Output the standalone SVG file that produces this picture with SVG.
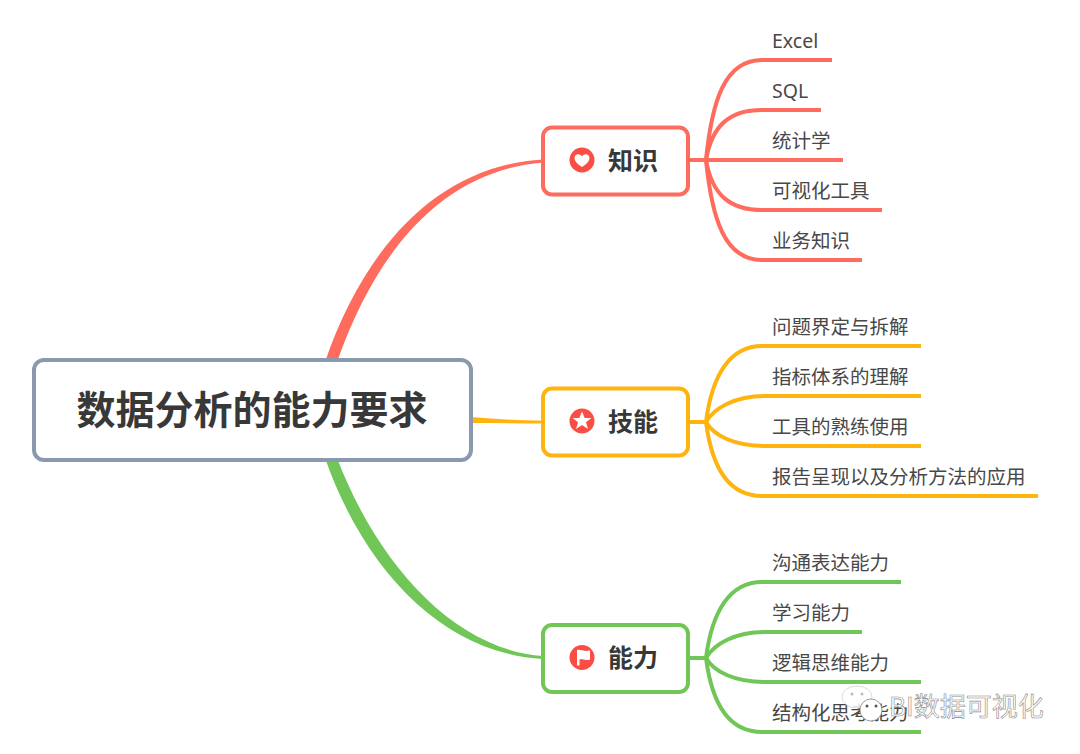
<svg xmlns="http://www.w3.org/2000/svg" width="1080" height="754" viewBox="0 0 1080 754">
<style>
.c{fill:none;stroke-width:4;stroke-linecap:butt}
.r{stroke:#ff6b5d}.y{stroke:#ffb30f}.g{stroke:#70c656}
.box{fill:#fff;stroke-width:4}
.t{font-family:"Noto Sans","Noto Sans CJK SC",sans-serif;font-size:19.500px;fill:#484848}
.b{font-family:"Noto Sans CJK SC",sans-serif;font-size:25px;font-weight:700;fill:#383838}
.ic{fill:#fa4d43}
.w{fill:#fff}
</style>
<rect width="1080" height="754" fill="#fff"/>
<g id="connectors">
<path d="M325 362C365 245 440 165 543 159.500L543 162.500C450 170 380 240 337 362Z" fill="#ff6b5d"/>
<path d="M471 417C495 419 520 420.500 543 420.500L543 423.500C520 423.500 495 423 471 423Z" fill="#ffb30f"/>
<path d="M325 458C365 572 445 654 543 659L543 656C455 650 378 565 337 458Z" fill="#70c656"/>
<g class="c r">
<path d="M688 160H706"/>
<path d="M706 160C712 100 725 60 762 60H832"/>
<path d="M706 160C712 125 730 110 762 110H821"/>
<path d="M706 160H843"/>
<path d="M706 160C712 195 730 210 762 210H882"/>
<path d="M706 160C712 220 725 260 762 260H862"/>
</g>
<g class="c y">
<path d="M688 422H706"/>
<path d="M706 422C712 375 730 346 762 346H921"/>
<path d="M706 422C714 408 735 396 765 396H921"/>
<path d="M706 422C714 436 735 446 765 446H921"/>
<path d="M706 422C712 469 730 496 762 496H1038"/>
</g>
<g class="c g">
<path d="M688 658H706"/>
<path d="M706 658C712 611 730 582 762 582H901"/>
<path d="M706 658C714 644 735 632 765 632H862"/>
<path d="M706 658C714 672 735 682 765 682H921"/>
<path d="M706 658C712 705 730 732 762 732H921"/>
</g>
</g>
<g id="root">
<rect x="34" y="360" width="437" height="100" rx="10" class="box" stroke="#8a99ae"/>
<text x="252" y="424" text-anchor="middle" font-family="'Noto Sans CJK SC',sans-serif" font-size="39" font-weight="700" fill="#383838">数据分析的能力要求</text>
</g>
<g id="node-zhishi">
<rect x="543" y="127.500" width="145" height="67" rx="9" class="box" stroke="#ff6b5d"/>
<circle cx="582" cy="160" r="12.500" class="ic"/>
<path d="M582 167C577 164 574.500 161 574.500 158C574.500 153.500 580 153 582 156.500C584 153 589.500 153.500 589.500 158C589.500 161 587 164 582 167Z" class="w"/>
<text x="608" y="169.500" class="b">知识</text>
</g>
<g id="node-jineng">
<rect x="543" y="388.500" width="145" height="67" rx="9" class="box" stroke="#ffb30f"/>
<circle cx="582" cy="421" r="12.500" class="ic"/>
<path d="M582 411.500L584.700 418H591.500L586 422.200L588 429L582 425L576 429L578 422.200L572.500 418H579.300Z" class="w"/>
<text x="608" y="430.500" class="b">技能</text>
</g>
<g id="node-nengli">
<rect x="543" y="625" width="145" height="67" rx="9" class="box" stroke="#70c656"/>
<circle cx="582" cy="657.500" r="12.500" class="ic"/>
<path d="M577 650C581 649 584 652 590 650.500V659.500C585 661 582 658.500 579.500 659.500V665.500H577Z" class="w"/>
<text x="608" y="666.500" class="b">能力</text>
</g>
<g id="leaves" class="t">
<text x="772" y="47.500">Excel</text>
<text x="772" y="97.500">SQL</text>
<text x="772" y="148">统计学</text>
<text x="772" y="198">可视化工具</text>
<text x="772" y="248">业务知识</text>
<text x="772" y="334">问题界定与拆解</text>
<text x="772" y="384">指标体系的理解</text>
<text x="772" y="434">工具的熟练使用</text>
<text x="772" y="484">报告呈现以及分析方法的应用</text>
<text x="772" y="570">沟通表达能力</text>
<text x="772" y="620">学习能力</text>
<text x="772" y="670">逻辑思维能力</text>
<text x="772" y="720">结构化思考能力</text>
</g>
<g id="watermark">
<ellipse cx="857" cy="697" rx="15" ry="11" fill="#fff" fill-opacity=".85" stroke="#dcdcdc"/>
<ellipse cx="871" cy="710" rx="11" ry="11" fill="#fff" stroke="#777" stroke-width=".7"/>
<circle cx="852" cy="694" r="1.500" fill="#bbb"/><circle cx="862" cy="694" r="1.500" fill="#bbb"/>
<circle cx="867" cy="706" r="1.500" fill="#555"/><circle cx="876" cy="706" r="1.500" fill="#555"/>
<text x="889" y="716" font-family="'Noto Sans CJK SC',sans-serif" font-size="26" fill="#fff" stroke="#8c8c8c" stroke-width=".6">BI数据可视化</text>
</g>
</svg>
